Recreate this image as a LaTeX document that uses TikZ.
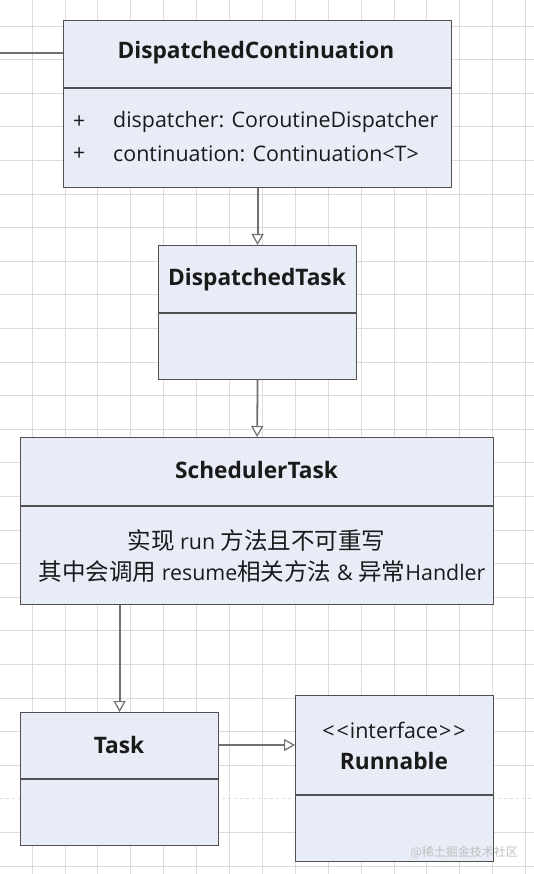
\documentclass[tikz,border=0pt]{standalone}
\usepackage{fontspec}
\setmainfont{Open Sans}
\newfontfamily\cjk[Scale=1.1]{Noto Sans CJK SC}
\newfontfamily\wmfont{Noto Sans CJK SC}
\usetikzlibrary{arrows.meta}
\definecolor{gridc}{HTML}{DCDCDC}
\definecolor{fillc}{HTML}{E8ECF7}
\definecolor{boxc}{HTML}{505050}
\definecolor{linec}{HTML}{707070}
\definecolor{textc}{HTML}{1A1A1A}
\begin{document}
\begin{tikzpicture}[x=1pt,y=-1pt,
  cls/.style={draw=boxc, line width=1.2pt, fill=fillc, anchor=north west, inner sep=0pt},
  divider/.style={draw=boxc, line width=1.2pt},
  conn/.style={draw=linec, line width=1.8pt, -{Triangle[open,length=11pt,width=12pt,fill=white,line width=1.2pt]}},
  plain/.style={draw=linec, line width=1.8pt},
  title/.style={font=\fontsize{22.7}{27}\selectfont\bfseries, text=textc, inner sep=0pt},
  body/.style={font=\fontsize{21.4}{26}\selectfont, text=textc, inner sep=0pt},
  wm/.style={font=\wmfont\fontsize{12}{14}\selectfont, text=black!25, inner sep=0pt}]
\useasboundingbox (0,0) rectangle (534,874);
\fill[white] (0,0) rectangle (534,874);
% grid
\foreach \i in {1,...,16} {\draw[gridc, line width=0.8pt] ({-0.9+32.9*\i},0) -- ({-0.9+32.9*\i},874);}
\foreach \j in {1,...,26} {\ifnum\j=24 \draw[gridc, line width=0.8pt, dashed] (0,{-7.6+33.6*\j}) -- (534,{-7.6+33.6*\j});\else \draw[gridc, line width=0.8pt] (0,{-7.6+33.6*\j}) -- (534,{-7.6+33.6*\j});\fi}

% DispatchedContinuation
\node[cls, minimum width=388pt, minimum height=167pt] (dc) at (63,20) {};
\draw[divider] (63,88) -- (451,88);
\node[title] (dct) at (256,53) {DispatchedContinuation};
\node[body, anchor=west] (dcp1) at (73,122) {+};
\node[body, anchor=west] (dca1) at (113,122) {dispatcher: CoroutineDispatcher};
\node[body, anchor=west] (dcp2) at (73,154) {+};
\node[body, anchor=west] (dca2) at (113,154) {continuation: Continuation{<}T{>}};
\coordinate (lin) at (0,53);
\coordinate (dcin) at (63,53);
\draw[plain] (lin) -- (dcin);

% DispatchedTask
\node[cls, minimum width=198pt, minimum height=134pt] (dt) at (158,245) {};
\draw[divider] (158,313) -- (356,313);
\node[title] (dtt) at (257,280) {DispatchedTask};

% SchedulerTask
\node[cls, minimum width=473pt, minimum height=167pt] (st) at (20,437) {};
\draw[divider] (20,506) -- (493,506);
\node[title] (stt) at (256.5,470) {SchedulerTask};
\node[body] (st1) at (256.5,541) {{\cjk 实现} run {\cjk 方法且不可重写}};
\node[body] (st2) at (262,572) {{\cjk 其中会调用} resume{\cjk 相关方法} \& {\cjk 异常}Handler};

% Task
\node[cls, minimum width=198pt, minimum height=133pt] (task) at (20,712) {};
\draw[divider] (20,779) -- (218,779);
\node[title] (taskt) at (119,745) {Task};

% Runnable
\node[cls, minimum width=198pt, minimum height=166pt] (run) at (295,695) {};
\draw[divider] (295,795) -- (493,795);
\node[body] (runs) at (394,730) {{<}\kern2pt{<}\kern1pt interface\kern1pt{>}\kern2pt{>}};
\node[title] (runt) at (394,761) {Runnable};

% connectors
\draw[conn] (dc.south) -- (dt.north);
\draw[conn] (dt.south) -- (st.north);
\draw[conn] (st.south -| task.north) -- (task.north);
\draw[conn] (task.east |- taskt) -- (run.west |- taskt);

% watermark
\node[wm, anchor=east] (wmk) at (518,852) {@稀土掘金技术社区};
\end{tikzpicture}
\end{document}
